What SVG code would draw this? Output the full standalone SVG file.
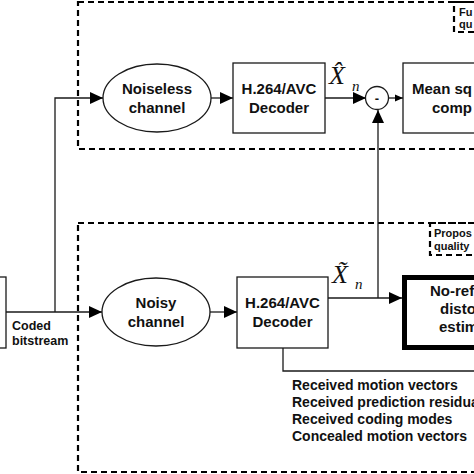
<svg xmlns="http://www.w3.org/2000/svg" width="474" height="474" viewBox="0 0 474 474">
<style>
.bg{fill:#fff}
.ln{fill:none;stroke:#1a1a1a;stroke-width:1.3}
.nd{fill:#fff;stroke:#1a1a1a;stroke-width:1.3}
.thick{fill:#fff;stroke:#000;stroke-width:5}
.dash{fill:none;stroke:#000;stroke-width:2.2;stroke-dasharray:6 4}
.t{font-family:"Liberation Sans",Arial,sans-serif;font-weight:bold;fill:#111}
.n15{font-size:15px}
.s12{font-size:12.5px}
.s14{font-size:14px}
.s11{font-size:11px}
.m{font-family:"Liberation Serif","Times New Roman",serif;font-style:italic;fill:#111}
</style>
<defs>
<marker id="ah" markerUnits="userSpaceOnUse" markerWidth="13" markerHeight="12" refX="13" refY="6" orient="auto">
<path d="M0,0 L13,6 L0,12 z" fill="#000"/>
</marker>
<marker id="as" markerUnits="userSpaceOnUse" markerWidth="8" markerHeight="8" refX="8" refY="4" orient="auto">
<path d="M0,0.5 L8,4 L0,7.5 z" fill="#000"/>
</marker>
</defs>
<rect class="bg" x="0" y="0" width="474" height="474"/>

<g id="regions">
<rect class="dash" x="78" y="2" width="410" height="147"/>
<rect class="dash" x="454" y="2" width="40" height="30"/>
<rect class="dash" x="78" y="223" width="410" height="249"/>
<rect class="dash" x="430" y="223" width="60" height="32"/>
<text class="t s11" x="459" y="16">Fu</text>
<text class="t s11" x="459" y="28">qu</text>
<text class="t s11" x="434" y="237">Propos</text>
<text class="t s11" x="434" y="250">quality</text>
</g>

<g id="connectors">
<polyline class="ln" points="6,312 102,312" marker-end="url(#ah)"/>
<polyline class="ln" points="55,312 55,98 103,98" marker-end="url(#ah)"/>
<line class="ln" x1="211" y1="98" x2="233" y2="98" marker-end="url(#ah)"/>
<line class="ln" x1="325" y1="98" x2="366" y2="98" marker-end="url(#ah)"/>
<line class="ln" x1="389" y1="98" x2="403" y2="98" marker-end="url(#as)"/>
<polyline class="ln" points="378,298 378,110" marker-end="url(#ah)"/>
<line class="ln" x1="210" y1="312" x2="237" y2="312" marker-end="url(#ah)"/>
<line class="ln" x1="328" y1="298" x2="402" y2="298" marker-end="url(#ah)"/>
<polyline class="ln" points="283,348 283,371 480,371"/>
</g>

<g id="source">
<rect class="nd" x="-20" y="277" width="26" height="71"/>
<text class="t s12" x="12" y="330">Coded</text>
<text class="t s12" x="12" y="345">bitstream</text>
</g>

<g id="noiseless">
<ellipse class="nd" cx="157" cy="98" rx="54" ry="34"/>
<text class="t n15" x="157" y="94" text-anchor="middle">Noiseless</text>
<text class="t n15" x="157" y="113" text-anchor="middle">channel</text>
</g>

<g id="decoder1">
<rect class="nd" x="233" y="63" width="92" height="70"/>
<text class="t n15" x="279" y="94" text-anchor="middle">H.264/AVC</text>
<text class="t n15" x="279" y="113" text-anchor="middle">Decoder</text>
</g>

<g id="xhat">
<text class="m" x="329" y="84" font-size="26">X&#770;</text>
<text class="m" x="352" y="91" font-size="15">n</text>
</g>

<g id="subtract">
<circle class="nd" cx="377" cy="98" r="11.5"/>
<text class="t" x="377" y="103" font-size="13" text-anchor="middle">-</text>
</g>

<g id="mse">
<rect class="nd" x="403" y="63" width="90" height="70"/>
<text class="t n15" x="412" y="94">Mean sq</text>
<text class="t n15" x="432" y="113">comp</text>
</g>

<g id="noisy">
<ellipse class="nd" cx="156" cy="312" rx="54" ry="34"/>
<text class="t n15" x="156" y="308" text-anchor="middle">Noisy</text>
<text class="t n15" x="156" y="327" text-anchor="middle">channel</text>
</g>

<g id="decoder2">
<rect class="nd" x="237" y="277" width="91" height="71"/>
<text class="t n15" x="282.5" y="308" text-anchor="middle">H.264/AVC</text>
<text class="t n15" x="282.5" y="327" text-anchor="middle">Decoder</text>
</g>

<g id="xtilde">
<text class="m" x="332" y="283" font-size="26">X&#771;</text>
<text class="m" x="355" y="289" font-size="15">n</text>
</g>

<g id="noref">
<rect class="thick" x="404.5" y="277.5" width="90" height="70"/>
<text class="t n15" x="430" y="296">No-ref</text>
<text class="t n15" x="440" y="314">disto</text>
<text class="t n15" x="439" y="332">estim</text>
</g>

<g id="sideinfo">
<text class="t s14" x="292" y="390">Received motion vectors</text>
<text class="t s14" x="292" y="407">Received prediction residua</text>
<text class="t s14" x="292" y="424">Received coding modes</text>
<text class="t s14" x="292" y="441">Concealed motion vectors</text>
</g>
</svg>
